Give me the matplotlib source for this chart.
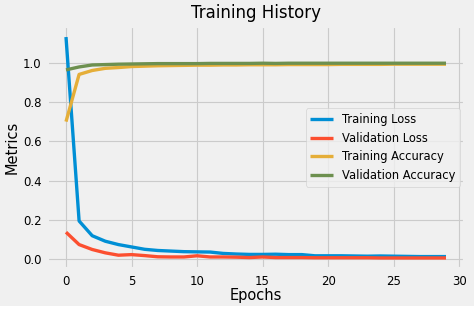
import numpy as np
import matplotlib
matplotlib.use("Agg")
import matplotlib.pyplot as plt
from matplotlib.patches import Rectangle

plt.style.use("fivethirtyeight")

# values
epochs = list(range(30))
train_loss = [1.13, 0.195, 0.12, 0.092, 0.075, 0.063, 0.051, 0.045, 0.042, 0.039,
              0.038, 0.037, 0.030, 0.027, 0.025, 0.025, 0.026, 0.024, 0.024, 0.018,
              0.018, 0.018, 0.017, 0.016, 0.017, 0.016, 0.015, 0.014, 0.014, 0.014]
val_loss = [0.138, 0.075, 0.05, 0.033, 0.021, 0.024, 0.019, 0.013, 0.012, 0.012,
            0.018, 0.012, 0.012, 0.011, 0.009, 0.012, 0.009, 0.009, 0.009, 0.008,
            0.008, 0.008, 0.008, 0.008, 0.007, 0.007, 0.007, 0.007, 0.007, 0.007]
train_acc = [0.70, 0.94, 0.96, 0.971, 0.975, 0.980, 0.982, 0.984, 0.985, 0.986,
             0.987, 0.987, 0.988, 0.988, 0.989, 0.989, 0.989, 0.990, 0.990, 0.990,
             0.990, 0.991, 0.991, 0.991, 0.991, 0.992, 0.992, 0.992, 0.992, 0.992]
val_acc = [0.963, 0.978, 0.988, 0.990, 0.992, 0.993, 0.994, 0.995, 0.995, 0.995,
           0.995, 0.996, 0.996, 0.996, 0.996, 0.997, 0.996, 0.997, 0.997, 0.997,
           0.997, 0.997, 0.997, 0.997, 0.997, 0.997, 0.997, 0.997, 0.997, 0.997]

fig = plt.figure(figsize=(4.74, 3.34), dpi=100)
fig.patch.set_facecolor("white")
# gray backdrop only over the top part, bottom strip stays white
fig.patches.append(Rectangle((0, 28 / 334), 1, 1 - 28 / 334, transform=fig.transFigure,
                             facecolor="#f0f0f0", edgecolor="none", zorder=-1))

ax = fig.add_axes([47 / 474, (334 - 269) / 334, (465 - 47) / 474, (269 - 26) / 334])
lw = 2.4
ax.plot(epochs, train_loss, label="Training Loss", lw=lw)
ax.plot(epochs, val_loss, label="Validation Loss", lw=lw)
ax.plot(epochs, train_acc, label="Training Accuracy", lw=lw)
ax.plot(epochs, val_acc, label="Validation Accuracy", lw=lw)

ax.set_xlim(-1.45, 30.45)
ax.set_xticks([0, 5, 10, 15, 20, 25, 30])
ax.set_yticks([0.0, 0.2, 0.4, 0.6, 0.8, 1.0])
ax.tick_params(labelsize=8.5, pad=4)
ax.grid(lw=0.8)
ax.set_title("Training History", fontsize=12, pad=6)
ax.set_xlabel("Epochs", fontsize=10.5, labelpad=0)
ax.set_ylabel("Metrics", fontsize=10.5, labelpad=2)
ax.legend(loc="center right", fontsize=8.3, handlelength=2.0, borderaxespad=0.4)

fig.savefig("out.png", dpi=100, facecolor=fig.get_facecolor())
